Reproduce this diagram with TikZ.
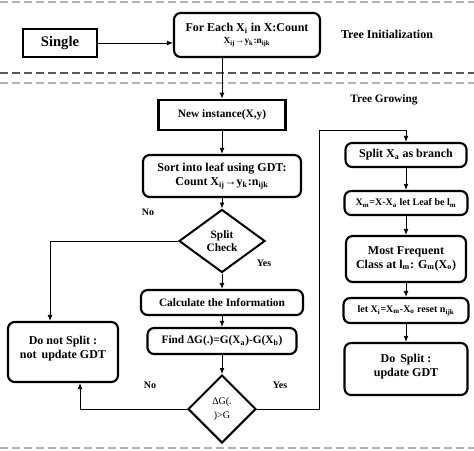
\documentclass[tikz,border=0pt]{standalone}
\usepackage{fontspec}
\setmainfont{Liberation Serif}
\usepackage{tikz}
\usetikzlibrary{shapes.geometric,arrows.meta}

\tikzset{
  sqbox/.style={draw, line width=1.9pt, inner sep=1pt, align=center, font=\bfseries\fontsize{9}{10.5}\selectfont},
  rbox/.style={sqbox, line width=1.6pt, rounded corners=5pt},
  dbox/.style={draw, diamond, line width=1.5pt, inner sep=0pt, align=center},
  flow/.style={line width=0.6pt, -{Latex[length=4.5pt,width=3.6pt]}},
  sepline/.style={line width=1.4pt, dash pattern=on 6pt off 3pt},
  lbl/.style={inner sep=0.75pt, font=\bfseries\fontsize{7.5}{9}\selectfont}
}

\begin{document}
\begin{tikzpicture}[x=0.75pt,y=0.75pt,yscale=-1,xscale=1]
    \useasboundingbox (0,0) rectangle (474,450);

    %Shape: Dashed separators
    \draw [sepline, gray!60] (0,2) -- (474,2);
    \draw [sepline, black!65] (0,73) -- (474,73);
    \draw [sepline, gray!60] (0,83) -- (474,83);
    \draw [sepline, gray!60] (0,448) -- (474,448);

    %Shape: Rectangle [id:single]
    \node [sqbox, minimum width=55.5pt, minimum height=21pt, font=\bfseries\fontsize{11}{13}\selectfont] (single) at (60,43) {Single};
    %Shape: Rounded Rect [id:foreach]
    \node [rbox, minimum width=109.5pt, minimum height=33pt] (foreach) at (247,35) {For Each X\textsubscript{i} in X:Count\\[-1.5pt]{\fontsize{7}{8}\selectfont X\textsubscript{ij}→y\textsubscript{k}:n\textsubscript{ijk}}};
    %Shape: Rectangle [id:newinst]
    \node [sqbox, minimum width=95.25pt, minimum height=22.5pt, font=\bfseries\fontsize{8.5}{10}\selectfont] (newinst) at (222,115) {New instance(X,y)};
    %Shape: Rounded Rect [id:sortleaf]
    \node [rbox, minimum width=118.5pt, minimum height=31.5pt] (sortleaf) at (222,176) {Sort into leaf using GDT:\\Count X\textsubscript{ij}→y\textsubscript{k}:n\textsubscript{ijk}};
    %Shape: Diamond [id:splitchk]
    \node [dbox, minimum width=64.5pt, minimum height=47.25pt, font=\bfseries\fontsize{8.5}{10}\selectfont] (splitchk) at (222,241) {Split\\Check};
    %Shape: Rounded Rect [id:calc]
    \node [rbox, minimum width=121.5pt, minimum height=18.75pt, font=\bfseries\fontsize{8.5}{10}\selectfont] (calc) at (222,302.5) {Calculate the Information};
    %Shape: Rounded Rect [id:find]
    \node [rbox, minimum width=111.75pt, minimum height=19.5pt, font=\bfseries\fontsize{8.5}{10}\selectfont] (find) at (222,341) {Find ΔG(.)=G(X\textsubscript{a})-G(X\textsubscript{b})};
    %Shape: Diamond [id:dgain]
    \node [dbox, minimum width=51pt, minimum height=51pt, font=\fontsize{7.5}{10}\selectfont] (dgain) at (222,409) {ΔG(.\\)>G};
    %Shape: Rounded Rect [id:nosplit]
    \node [rbox, minimum width=82.5pt, minimum height=45pt, font=\bfseries\fontsize{9}{10.5}\selectfont] (nosplit) at (63,352) {Do not Split :\\not\, update GDT\\[-3pt]\mbox{}};

    %Shape: Rounded Rect [id:splitxa]
    \node [rbox, minimum width=90.75pt, minimum height=18pt] (splitxa) at (406,155) {Split X\textsubscript{a} as branch};
    %Shape: Rounded Rect [id:xm]
    \node [rbox, minimum width=92.25pt, minimum height=18pt, font=\bfseries\fontsize{7.5}{9}\selectfont] (xm) at (406,203) {X\textsubscript{m}=X-X\textsubscript{a} let Leaf be l\textsubscript{m}};
    %Shape: Rounded Rect [id:mostfreq]
    \node [rbox, minimum width=90pt, minimum height=34.5pt] (mostfreq) at (406,259) {Most Frequent\\Class at l\textsubscript{m}: G\textsubscript{m}(X\textsubscript{o})};
    %Shape: Rounded Rect [id:letxi]
    \node [rbox, minimum width=93.75pt, minimum height=18.75pt, font=\bfseries\fontsize{7.5}{9}\selectfont] (letxi) at (406,310.5) {let X\textsubscript{i}=X\textsubscript{m}-X\textsubscript{o} reset n\textsubscript{ijk}};
    %Shape: Rounded Rect [id:dosplit]
    \node [rbox, minimum width=92.25pt, minimum height=39pt] (dosplit) at (406,369) {Do\, Split :\\update GDT\\[-5pt]\mbox{}};

    % Text Node
    \node [inner sep=0.75pt, font=\bfseries\fontsize{9}{11}\selectfont] (treeinit) at (387,34) {Tree Initialization};
    % Text Node
    \node [inner sep=0.75pt, font=\bfseries\fontsize{8.5}{10}\selectfont] (treegrow) at (384,100) {Tree Growing};
    % Text Node
    \node [lbl] (no1) at (148,212) {No};
    % Text Node
    \node [lbl] (yes1) at (264,263) {Yes};
    % Text Node
    \node [lbl] (no2) at (150,385) {No};
    % Text Node
    \node [lbl] (yes2) at (280,385) {Yes};

    %Connectors
    \coordinate (loop) at (319,130);
    \draw [flow] (single.east) -- (single.east -| foreach.west);
    \draw [flow] (newinst.north |- foreach.south) -- (newinst.north);
    \draw [flow] (newinst.south) -- (sortleaf.north);
    \draw [flow] (sortleaf.south) -- (splitchk.north);
    \draw [flow] (splitchk.south) -- (calc.north);
    \draw [flow] (calc.south) -- (find.north);
    \draw [flow] (find.south) -- (dgain.north);
    \draw [flow] (splitchk.west) -| ([xshift=-9.75pt]nosplit.north);
    \draw [flow] (dgain.west) -| ([xshift=12.75pt]nosplit.south);
    \draw [flow] (dgain.east) -| (loop) -| (splitxa.north);
    \draw [flow] (splitxa.south) -- (xm.north);
    \draw [flow] (xm.south) -- (mostfreq.north);
    \draw [flow] (mostfreq.south) -- (letxi.north);
    \draw [flow] (letxi.south) -- (dosplit.north);

\end{tikzpicture}
\end{document}
